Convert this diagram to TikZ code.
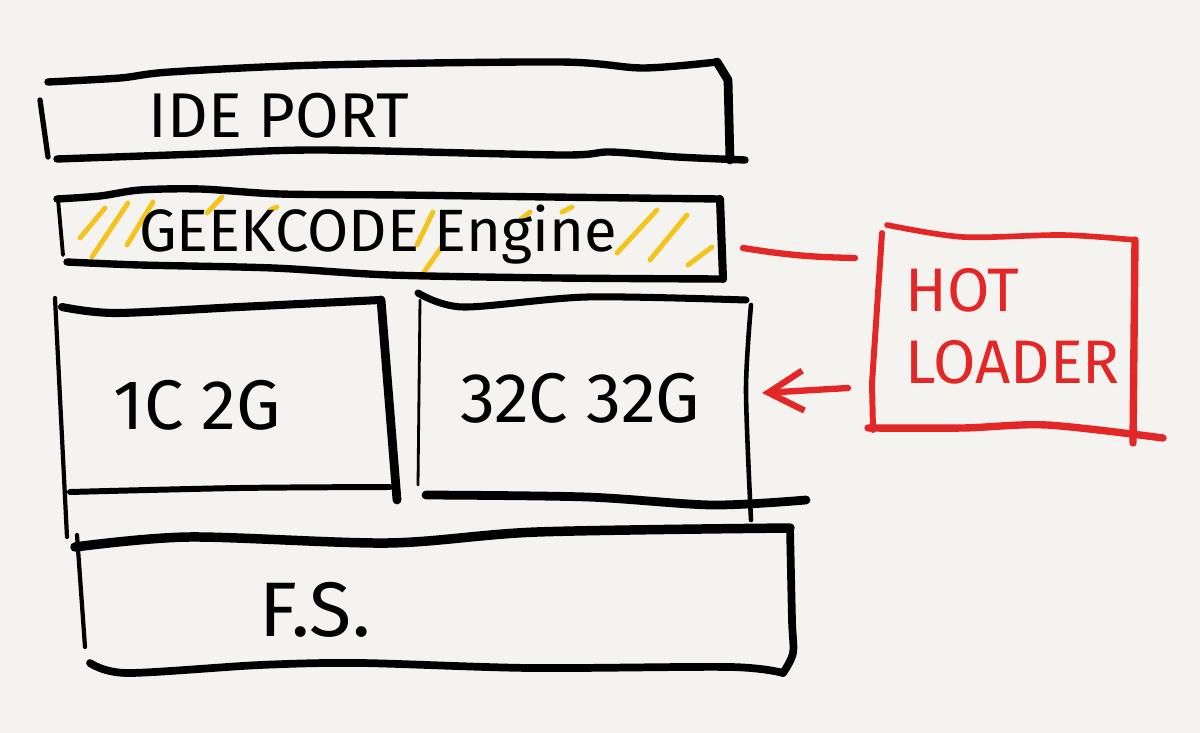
\documentclass[tikz,border=0pt]{standalone}
\usepackage{fontspec}
\setmainfont{Fira Sans}
\usetikzlibrary{arrows.meta}
\definecolor{paper}{HTML}{F4F3F0}
\definecolor{hotred}{HTML}{E32626}
\definecolor{hilite}{HTML}{F2C41C}

\begin{document}
\begin{tikzpicture}[x=0.02cm, y=-0.02cm,
  inkline/.style={draw=black, line width=#1, line cap=round, line join=round},
  inkline/.default=4.2pt,
  redline/.style={draw=hotred, line width=#1, line cap=round, line join=round},
  redline/.default=3.6pt,
  hatch/.style={draw=hilite, line width=2.8pt, line cap=round},
  word/.style={font=\fontsize{#1}{41}\selectfont, inner sep=0pt},
  word/.default=40]

\fill[paper] (0,0) rectangle (1200,733);
\useasboundingbox (0,0) rectangle (1200,733);

% yellow marker strokes
\foreach \xa/\ya/\xb/\yb in {80/238/105/208, 92/257/128/203, 127/245/153/202,
    207/213/222/197, 270/210/277/207, 417/245/433/212, 422/275/443/245,
    520/220/530/212, 562/212/572/207, 617/253/657/210, 650/260/687/215,
    688/265/712/247} {
  \draw[hatch] (\xa,\ya) -- (\xb,\yb);
}

% IDE PORT
\draw[inkline] plot[smooth] coordinates {(48,82) (120,78) (170,72) (320,65) (560,62) (643,68) (717,62)};
\draw[inkline=3pt] (40,100) -- (48,157);
\draw[inkline=5pt] (717,62) -- (728,80) -- (730,160);
\draw[inkline] plot[smooth] coordinates {(57,159) (200,154) (320,150) (560,155) (610,152) (677,157) (745,160)};

% engine
\draw[inkline] plot[smooth] coordinates {(57,199) (100,196) (140,190) (200,189) (280,194) (400,195) (550,197) (720,199)};
\draw[inkline=2.2pt] (58,199) -- (63,255);
\draw[inkline=4.6pt] (720,199) -- (723,279);
\draw[inkline] plot[smooth] coordinates {(67,262) (140,265) (273,268) (390,275) (557,278) (723,279)};

% small box
\draw[inkline=2.4pt] (55,298) -- (67,537);
\draw[inkline=4.6pt] plot[smooth] coordinates {(62,307) (115,313) (239,307) (380,300)};
\draw[inkline=5pt] (381,300) -- (397,500);
\draw[inkline=3.4pt] plot[smooth] coordinates {(70,492) (239,488) (390,487)};

% big box
\draw[inkline=1.6pt] (420,300) -- (418,485);
\draw[inkline=4pt] plot[smooth] coordinates {(418,293) (463,307) (587,297) (746,300)};
\draw[inkline=2.6pt] plot[smooth] coordinates {(751,305) (746,390) (751,520)};
\draw[inkline=5pt] plot[smooth] coordinates {(426,495) (587,497) (712,505) (806,500)};

% F.S.
\draw[inkline=5.4pt] plot[smooth] coordinates {(75,547) (189,537) (388,543) (537,532) (790,528)};
\draw[inkline=2.4pt] (77,535) -- (85,647);
\draw[inkline=4.4pt] plot[smooth] coordinates {(790,528) (792,620) (793,653) (783,673)};
\draw[inkline=4.4pt] plot[smooth] coordinates {(90,663) (127,673) (260,665) (360,663) (530,668) (730,667) (783,673)};

% hot loader
\draw[redline=3.2pt] plot[smooth] coordinates {(887,225) (963,237) (1063,235) (1135,240)};
\draw[redline=3.4pt] (882,233) -- (872,383) -- (873,430);
\draw[redline=4.2pt] (1135,240) -- (1133,443);
\draw[redline=4.2pt] plot[smooth] coordinates {(868,428) (963,428) (1047,425) (1163,438)};

\node[word=36] (ide) at (279,116) {IDE PORT};
\node[word=34] (engine) at (378,235) {GEEKCODE Engine};
\node[word] (small) at (197,405) {1C 2G};
\node[word] (big) at (580,398) {32C 32G};
\node[word=44] (fs) at (315,610) {F.S.};
\node[word=35, text=hotred, align=left, anchor=west] (hot) at (905,326) {HOT\\LOADER};

\coordinate (engR) at (743,248);
\coordinate (hotA) at (855,258);
\coordinate (hotB) at (848,388);
\coordinate (bigR) at (762,393);
\draw[redline] (engR) to[bend right=4] (hotA);
\draw[redline, -{Straight Barb[length=7mm, width=8mm]}] (hotB) -- (bigR);

\end{tikzpicture}
\end{document}
